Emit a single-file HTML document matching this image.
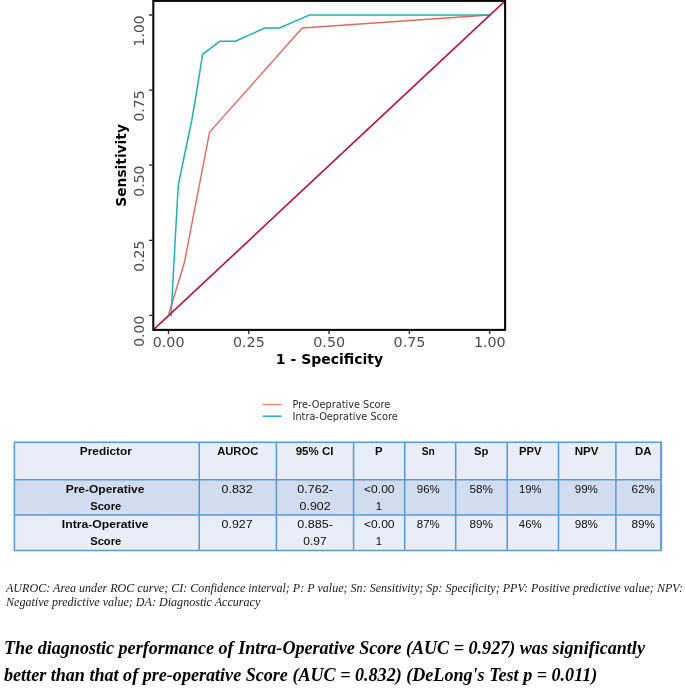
<!DOCTYPE html>
<html lang="en">
<head>
<meta charset="utf-8">
<title>ROC comparison of Pre-Operative and Intra-Operative Scores</title>
<style>
html,body{margin:0;padding:0;background:#fff;}
body{width:685px;height:690px;position:relative;overflow:hidden;font-family:"Liberation Sans",sans-serif;color:#000;}
.chart{position:absolute;left:0;top:0;display:block;}
.tbl{position:absolute;left:14px;top:442px;border-collapse:separate;border-spacing:0;table-layout:fixed;width:647px;font-family:"Liberation Sans",sans-serif;font-size:11.3px;color:#0c0c0c;}
.tbl th,.tbl td{border:0;padding:0;vertical-align:top;text-align:center;font-weight:normal;overflow:hidden;white-space:nowrap;}
.tbl th{font-weight:bold;}
.tbl tr.h th{height:38px;background:#e9edf7;}
.tbl tr.a th,.tbl tr.a td{height:35px;background:#d2dcef;}
.tbl tr.b th,.tbl tr.b td{height:35px;background:#e9edf7;}
.tbl .ln{height:17px;line-height:17px;position:relative;}
.tbl tr.h .ln{top:1px;--dy:0px;}
.tbl tr.a .ln{top:0px;--dy:0.6px;}
.tbl tr.b .ln{top:1px;--dy:0.4px;}
.tbl .t{display:inline-block;transform-origin:50% 50%;transform:translateY(var(--dy));}
.grid{position:absolute;left:10px;top:438px;display:block;pointer-events:none;}
.cap{position:absolute;left:6.0px;top:582.3px;margin:0;font-family:"Liberation Serif",serif;font-style:italic;font-size:12px;line-height:13.3px;color:#1a1a1a;white-space:nowrap;transform-origin:0 0;transform:scaleX(1.0055);}
.concl{position:absolute;left:4.0px;top:635.1px;margin:0;font-family:"Liberation Serif",serif;font-style:italic;font-weight:bold;font-size:18px;line-height:26.8px;color:#000;white-space:nowrap;transform-origin:0 0;transform:scaleX(1.005);}
</style>
</head>
<body>
<svg class="chart" width="685" height="432" viewBox="0 0 685 432">
<rect x="0" y="0" width="685" height="432" fill="#fff"/>
<polyline points="168.7,314.2 184.3,262.8 209.6,132.1 302.2,28.0 489.4,15.0" fill="none" stroke="#e2675f" stroke-width="1.4" stroke-linejoin="round"/>
<polyline points="171.2,316.3 171.9,300.0 177.4,200.0 178.5,184.0 191.8,120.0 195.3,100.0 202.6,54.4 219.6,41.3 235.4,41.3 264.8,28.0 279.4,28.0 309.2,15.1 489.4,15.1" fill="none" stroke="#20b0b8" stroke-width="1.5" stroke-linejoin="round"/>
<line x1="153.3" y1="329.9" x2="505.1" y2="0.9" stroke="#b5154b" stroke-width="1.65"/>
<rect x="153.3" y="0.9" width="351.8" height="329.0" fill="none" stroke="#0a0a0a" stroke-width="2.1"/>
<path d="M168.5 330.9v3.2M248.8 330.9v3.2M329.1 330.9v3.2M409.4 330.9v3.2M489.7 330.9v3.2M152.3 315.4h-3.2M152.3 240.3h-3.2M152.3 165.2h-3.2M152.3 90.1h-3.2M152.3 15.0h-3.2" stroke="#262626" stroke-width="1.3" fill="none"/>
<g font-family="'DejaVu Sans', 'Liberation Sans', sans-serif" font-size="14.3" fill="#4d4d4d">
<text x="168.6" y="347.2" text-anchor="middle">0.00</text>
<text x="248.9" y="347.2" text-anchor="middle">0.25</text>
<text x="329.2" y="347.2" text-anchor="middle">0.50</text>
<text x="409.5" y="347.2" text-anchor="middle">0.75</text>
<text x="489.8" y="347.2" text-anchor="middle">1.00</text>
<text transform="translate(144.3 315.7) rotate(-90)" text-anchor="end" font-size="14">0.00</text>
<text transform="translate(144.3 240.6) rotate(-90)" text-anchor="end" font-size="14">0.25</text>
<text transform="translate(144.3 165.5) rotate(-90)" text-anchor="end" font-size="14">0.50</text>
<text transform="translate(144.3 90.4) rotate(-90)" text-anchor="end" font-size="14">0.75</text>
<text transform="translate(144.3 15.3) rotate(-90)" text-anchor="end" font-size="14">1.00</text>
</g>
<g font-family="'DejaVu Sans', 'Liberation Sans', sans-serif" font-size="14" font-weight="bold" fill="#000">
<text x="329.5" y="364.4" text-anchor="middle">1 - Specificity</text>
<text transform="translate(125.7 165.4) rotate(-90)" text-anchor="middle" textLength="82.6" lengthAdjust="spacingAndGlyphs">Sensitivity</text>
</g>
<line x1="262.8" y1="404.5" x2="281.5" y2="404.5" stroke="#ee7a72" stroke-width="1.3"/>
<line x1="262.8" y1="416.2" x2="281.5" y2="416.2" stroke="#1fb9c1" stroke-width="1.5"/>
<g font-family="'DejaVu Sans', 'Liberation Sans', sans-serif" font-size="9.75" fill="#2b2b2b">
<text x="292.5" y="408">Pre-Oeprative Score</text>
<text x="292.5" y="419.9">Intra-Oeprative Score</text>
</g>
</svg>
<table class="tbl">
<colgroup>
<col style="width:185px">
<col style="width:77px">
<col style="width:77px">
<col style="width:51px">
<col style="width:51px">
<col style="width:52px">
<col style="width:51px">
<col style="width:57px">
<col style="width:46px">
</colgroup>
<thead><tr class="h"><th style="padding-right:2.4px"><div class="ln"><span class="t" style="transform:translateY(var(--dy)) scaleX(1.050)">Predictor</span></div></th><th><div class="ln"><span class="t" style="transform:translateY(var(--dy)) scaleX(0.992)">AUROC</span></div></th><th style="padding-left:0.8px"><div class="ln"><span class="t" style="transform:translateY(var(--dy)) scaleX(1.018)">95% CI</span></div></th><th style="padding-left:0.8px"><div class="ln"><span class="t" style="transform:translateY(var(--dy)) scaleX(0.994)">P</span></div></th><th style="padding-right:2.6px"><div class="ln"><span class="t" style="transform:translateY(var(--dy)) scaleX(0.907)">Sn</span></div></th><th><div class="ln"><span class="t" style="transform:translateY(var(--dy)) scaleX(0.997)">Sp</span></div></th><th style="padding-right:4.2px"><div class="ln"><span class="t" style="transform:translateY(var(--dy)) scaleX(0.995)">PPV</span></div></th><th><div class="ln"><span class="t" style="transform:translateY(var(--dy)) scaleX(1.024)">NPV</span></div></th><th style="padding-left:11.0px"><div class="ln"><span class="t" style="transform:translateY(var(--dy)) scaleX(1.011)">DA</span></div></th></tr></thead>
<tbody><tr class="a"><th style="padding-right:2.4px"><div class="ln"><span class="t" style="transform:translateY(var(--dy)) scaleX(1.062)">Pre-Operative</span></div><div class="ln"><span class="t" style="transform:translateY(var(--dy)) scaleX(0.987)">Score</span></div></th><td><div class="ln"><span class="t" style="transform:translateY(var(--dy)) scaleX(1.100)">0.832</span></div></td><td style="padding-left:0.8px"><div class="ln"><span class="t" style="transform:translateY(var(--dy)) scaleX(1.111)">0.762-</span></div><div class="ln"><span class="t" style="transform:translateY(var(--dy)) scaleX(1.100)">0.902</span></div></td><td style="padding-left:0.8px"><div class="ln"><span class="t" style="transform:translateY(var(--dy)) scaleX(1.070)">&lt;0.00</span></div><div class="ln"><span class="t">1</span></div></td><td style="padding-right:2.6px"><div class="ln"><span class="t" style="transform:translateY(var(--dy)) scaleX(1.012)">96%</span></div></td><td><div class="ln"><span class="t" style="transform:translateY(var(--dy)) scaleX(1.039)">58%</span></div></td><td style="padding-right:4.2px"><div class="ln"><span class="t" style="transform:translateY(var(--dy)) scaleX(0.994)">19%</span></div></td><td><div class="ln"><span class="t" style="transform:translateY(var(--dy)) scaleX(1.030)">99%</span></div></td><td style="padding-left:11.0px"><div class="ln"><span class="t" style="transform:translateY(var(--dy)) scaleX(1.034)">62%</span></div></td></tr>
<tr class="b"><th style="padding-right:2.4px"><div class="ln"><span class="t" style="transform:translateY(var(--dy)) scaleX(1.079)">Intra-Operative</span></div><div class="ln"><span class="t" style="transform:translateY(var(--dy)) scaleX(0.987)">Score</span></div></th><td><div class="ln"><span class="t" style="transform:translateY(var(--dy)) scaleX(1.100)">0.927</span></div></td><td style="padding-left:0.8px"><div class="ln"><span class="t" style="transform:translateY(var(--dy)) scaleX(1.111)">0.885-</span></div><div class="ln"><span class="t" style="transform:translateY(var(--dy)) scaleX(1.068)">0.97</span></div></td><td style="padding-left:0.8px"><div class="ln"><span class="t" style="transform:translateY(var(--dy)) scaleX(1.070)">&lt;0.00</span></div><div class="ln"><span class="t">1</span></div></td><td style="padding-right:2.6px"><div class="ln"><span class="t" style="transform:translateY(var(--dy)) scaleX(1.012)">87%</span></div></td><td><div class="ln"><span class="t" style="transform:translateY(var(--dy)) scaleX(1.039)">89%</span></div></td><td style="padding-right:4.2px"><div class="ln"><span class="t" style="transform:translateY(var(--dy)) scaleX(1.012)">46%</span></div></td><td><div class="ln"><span class="t" style="transform:translateY(var(--dy)) scaleX(1.030)">98%</span></div></td><td style="padding-left:11.0px"><div class="ln"><span class="t" style="transform:translateY(var(--dy)) scaleX(1.039)">89%</span></div></td></tr></tbody>
</table>
<svg class="grid" width="660" height="118" viewBox="0 0 660 118" aria-hidden="true">
<path d="M3.70 4.20H651.20M3.70 41.70H651.20M3.70 77.00H651.20M3.70 112.40H651.20M4.40 3.40V113.10M189.20 3.40V113.10M266.40 3.40V113.10M343.60 3.40V113.10M394.70 3.40V113.10M445.70 3.40V113.10M497.20 3.40V113.10M548.50 3.40V113.10M605.90 3.40V113.10" stroke="#5b9bd5" stroke-width="1.55" fill="none"/>
<path d="M651.10 3.40V113.10" stroke="#66a2d8" stroke-width="2.2" fill="none"/>
</svg>
<p class="cap">AUROC: Area under ROC curve; CI: Confidence interval; P: P value; Sn: Sensitivity; Sp: Specificity; PPV: Positive predictive value; NPV:<br>Negative predictive value; DA: Diagnostic Accuracy</p>
<p class="concl">The diagnostic performance of Intra-Operative Score (AUC = 0.927) was significantly<br>better than that of pre-operative Score (AUC = 0.832) (DeLong's Test p = 0.011)</p>
</body>
</html>
